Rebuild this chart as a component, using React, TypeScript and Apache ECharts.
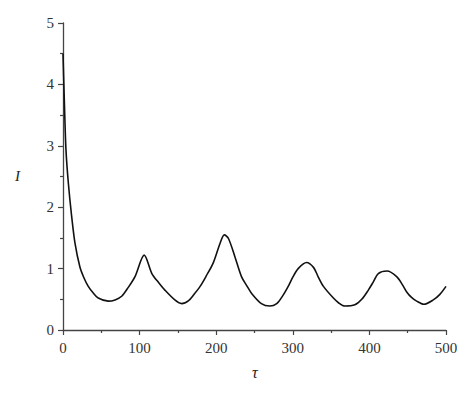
import React, { useEffect, useRef } from "react";
import * as echarts from "echarts";

const tau = [0, 1.7, 3.9, 7, 11.3, 15.7, 22, 27, 33, 39, 46, 59, 68, 76.6, 85, 94, 106, 116, 125, 133, 146, 155, 164, 171, 179, 187, 196, 205, 210.6, 216, 224.5, 233, 240, 246, 259, 270, 279, 287, 294, 300, 307, 318, 327, 333, 340, 353, 360, 368, 381, 390, 398.6, 405, 411.6, 423, 435.6, 443, 448.7, 455, 461.7, 471, 483.4, 492, 500];
const intensity = [4.5, 3.75, 2.93, 2.39, 1.85, 1.41, 1.03, 0.86, 0.71, 0.61, 0.52, 0.47, 0.49, 0.55, 0.69, 0.87, 1.22, 0.92, 0.77, 0.65, 0.49, 0.43, 0.48, 0.58, 0.71, 0.88, 1.09, 1.41, 1.55, 1.49, 1.19, 0.87, 0.72, 0.6, 0.43, 0.39, 0.43, 0.56, 0.71, 0.86, 1.0, 1.1, 1.02, 0.87, 0.71, 0.52, 0.44, 0.39, 0.41, 0.5, 0.65, 0.78, 0.92, 0.96, 0.87, 0.74, 0.62, 0.53, 0.47, 0.42, 0.49, 0.58, 0.71];
const xTicks = [0, 100, 200, 300, 400, 500];
const yTicks = [0, 1, 2, 3, 4, 5];

export default function App() {
  const ref = useRef<HTMLDivElement>(null);
  useEffect(() => {
    const chart = echarts.init(ref.current!, null, { renderer: "svg" });
    const font = "Liberation Serif";
    const axisCommon = {
      axisLine: { show: true, lineStyle: { color: "#444", width: 1.3 } },
      axisTick: { show: true, inside: false, length: 5, lineStyle: { color: "#444", width: 1.2 } },
      minorTick: { show: true, splitNumber: 2, length: 3, lineStyle: { color: "#444", width: 1.2 } },
      splitLine: { show: false },
      axisLabel: { color: "#333", fontSize: 15, fontFamily: font },
    };
    chart.setOption({
      animation: false,
      grid: { left: 63, right: 28, top: 23, bottom: 68 },
      xAxis: {
        type: "value",
        min: xTicks[0],
        max: xTicks[xTicks.length - 1],
        interval: 100,
        ...axisCommon,
        axisLabel: { ...axisCommon.axisLabel, margin: 10 },
      },
      yAxis: {
        type: "value",
        min: yTicks[0],
        max: yTicks[yTicks.length - 1],
        interval: 1,
        ...axisCommon,
        axisLabel: { ...axisCommon.axisLabel, margin: 9 },
      },
      graphic: [
        { type: "text", left: 15, top: 168, style: { text: "I", font: `italic 15px "${font}"`, fill: "#222" } },
        { type: "text", left: 252, top: 364, style: { text: "τ", font: `italic 16px "${font}"`, fill: "#222" } },
      ],
      series: [
        {
          type: "line",
          data: tau.map((t, i) => [t, intensity[i]]),
          showSymbol: false,
          smooth: 0.3,
          lineStyle: { color: "#111", width: 1.6 },
        },
      ],
    });
    return () => chart.dispose();
  }, []);
  return <div ref={ref} style={{ width: 474, height: 398, position: "absolute", left: 0, top: 0 }} />;
}
